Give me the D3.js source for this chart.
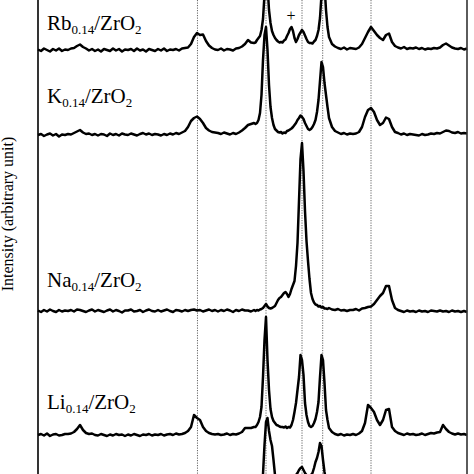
<!DOCTYPE html>
<html>
<head>
<meta charset="utf-8">
<script src="https://cdn.jsdelivr.net/npm/d3@7"></script>
<style>
  html, body { margin: 0; padding: 0; background: #fff; }
  svg { display: block; }
</style>
</head>
<body>
<div id="chart"></div>
<script>
// 2-theta sampling grid (degrees)
const theta = [
  10,10.5,11,11.5,12,12.5,13,13.5,14,14.5,
  15,15.5,16,16.5,17,17.5,18,18.5,19,19.5,
  20,20.5,21,21.5,22,22.5,23,23.5,24,24.5,
  25,25.5,26,26.5,27,27.5,28,28.5,29,29.5,
  30,30.5,31,31.5,32,32.5,33,33.5,34,34.5,
  35,35.5,36,36.5,37,37.5,38,38.5,39,39.5,
  40,40.5,41,41.5,42,42.5,43,43.5,44,44.5,
  45,45.5,46,46.25,46.5,46.75,47,47.25,47.5,47.75,
  48,48.25,48.5,48.75,49,49.25,49.5,49.75,50,50.25,
  50.5,50.75,51,51.25,51.5,51.75,52,52.25,52.5,52.75,
  53,53.25,53.5,53.75,54,54.25,54.5,54.75,55,55.25,
  55.5,55.75,56,56.25,56.5,56.75,57,57.25,57.5,57.75,
  58,58.25,58.5,59,59.5,60,60.5,61,61.5,62,
  62.5,63,63.5,64,64.5,65,65.5,66,66.5,67,
  67.5,68,68.5,69,69.5,70,70.5,71,71.5,72,
  72.5,73,73.5,74,74.5,75,75.5,76,76.5,77,
  77.5,78,78.5,79,79.5,80,80.5,81,81.5
];

// Intensities (arbitrary unit, relative to each trace's own baseline)
const rb = [
  1,-2,3,0,-3,2,-1,3,-2,1,
  0,3,4,8,11,6,3,-1,2,-2,
  1,-3,2,0,-2,3,-1,2,-3,1,
  0,2,-2,3,-1,1,-3,2,0,-2,
  2,-1,3,-2,1,0,2,-1,3,4,
  5,12,26,34,30,31,18,9,4,1,
  0,3,-1,2,1,-1,3,4,7,12,
  20,15,14,15,20,24,28,40,62,110,
  200,130,80,54,38,30,24,20,17,15,
  16,15,19,21,28,34,42,46,38,24,
  16,22,30,35,40,36,29,22,16,14,
  14,13,17,20,28,40,64,110,190,130,
  80,46,26,12,7,4,2,5,1,4,
  3,2,5,12,24,36,46,38,30,24,
  20,30,33,16,8,5,3,6,2,4,
  3,5,2,4,1,3,2,4,3,5,
  10,13,9,5,3,2,4,1,3
];
const k = [
  0,2,-2,1,3,-1,2,-3,1,0,
  2,1,4,7,10,5,2,3,0,2,
  -1,2,1,-2,3,0,2,-1,3,1,
  0,3,1,-1,2,4,1,3,0,2,
  1,-1,2,0,3,1,4,2,5,8,
  16,28,34,37,32,24,14,9,6,5,
  4,2,5,3,1,4,2,5,9,14,
  20,22,24,22,24,30,44,80,150,200,
  216,170,100,56,34,20,12,9,6,5,
  6,3,5,4,8,9,11,13,16,20,
  24,30,34,39,36,32,24,18,12,10,
  12,16,22,30,46,70,108,146,136,104,
  80,56,34,16,8,5,2,4,1,3,
  2,3,6,16,36,50,54,46,30,20,
  24,35,32,16,6,4,1,3,0,2,
  1,0,-1,2,0,1,3,2,4,3,
  6,9,8,5,4,6,3,4,3
];
const na = [
  1,-2,2,-1,3,0,-2,2,-1,1,
  0,2,-1,3,2,0,-2,1,3,-1,
  2,0,-2,1,3,-1,2,0,-3,1,
  1,3,-1,0,2,-2,1,3,0,-1,
  2,-1,1,3,0,-2,2,1,-1,2,
  0,2,3,1,2,-1,1,3,0,2,
  -1,2,0,3,1,-2,2,0,3,1,
  1,-1,2,0,2,1,3,4,6,10,
  14,9,6,5,6,8,10,16,22,26,
  28,32,36,38,34,28,34,44,52,60,
  90,136,220,304,336,280,200,140,100,64,
  36,24,17,13,12,9,10,7,8,5,
  5,4,6,3,2,4,1,2,0,2,
  2,4,1,5,6,8,9,14,22,30,
  36,50,50,22,6,2,0,-2,1,-1,
  0,-2,1,-1,0,-2,1,0,-1,1,
  -1,0,-2,1,-1,0,-2,0,-2
];
const li = [
  0,2,-1,3,-2,1,2,-1,0,2,
  2,3,6,12,20,10,4,2,3,0,
  -1,2,0,-2,1,-1,2,0,1,-2,
  1,-1,2,0,-2,1,0,2,-1,1,
  0,2,-1,1,2,0,3,1,2,4,
  8,16,40,34,30,16,8,4,2,1,
  2,0,1,3,0,2,1,3,6,14,
  14,14,16,16,20,26,36,56,116,190,
  236,150,90,52,36,28,24,20,19,17,
  16,16,15,17,14,16,15,20,30,46,
  64,90,116,160,150,120,64,40,26,18,
  16,18,24,32,46,66,116,160,150,104,
  50,30,14,6,2,0,2,-1,1,0,
  2,0,3,8,24,60,54,46,30,20,
  30,50,52,16,8,4,2,0,3,1,
  2,0,1,3,0,2,4,3,5,6,
  20,12,6,3,1,3,1,2,0
];
const bottom = [
  1,-1,2,0,-2,1,2,-1,0,1,
  2,0,1,3,4,2,0,-1,1,0,
  -1,1,0,2,-1,0,1,-2,1,0,
  1,0,-1,2,0,1,-1,0,2,1,
  0,1,2,0,-1,1,0,2,1,2,
  3,4,5,4,3,2,1,2,0,1,
  2,1,0,2,3,1,2,3,3,4,
  4,8,12,14,18,22,28,38,52,110,
  156,164,138,120,108,80,50,40,36,34,
  33,34,35,36,38,40,42,44,46,48,
  50,54,60,64,66,60,54,50,48,48,
  50,54,64,76,84,96,114,108,80,56,
  40,30,24,16,12,10,8,6,5,4,
  3,2,4,3,5,6,5,4,6,5,
  6,7,6,4,3,2,3,1,2,1,
  0,1,2,0,1,-1,0,1,2,0,
  1,0,-1,1,0,2,0,1,0
];

const traces  = [rb, k, na, li, bottom];
const offsets = [948, 778, 426, 178, 48];          // vertical stacking offsets
const elements = ["Rb", "K", "Na", "Li"];
const loading  = "0.14";
const refLines = [36.58, 48.0, 54.0, 57.45, 65.5]; // dotted reference positions (2θ)
const plusAt   = 52.17;                            // "+" marker position (2θ)
const yLabel   = "Intensity (arbitrary unit)";

// ---------- layout ----------
const W = 474, H = 474;
const svg = d3.select("#chart").append("svg")
  .attr("width", W).attr("height", H)
  .style("font-family", "'Liberation Serif', 'Times New Roman', serif");

const x = d3.scaleLinear().domain([10, 81.5]).range([38, 467]);
const y = d3.scaleLinear().domain([0, 1100]).range([524, -26]);

// reference dotted lines
svg.append("g").selectAll("line").data(refLines).join("line")
  .attr("x1", d => x(d)).attr("x2", d => x(d))
  .attr("y1", 0).attr("y2", H)
  .attr("stroke", "#555").attr("stroke-width", 0.9)
  .attr("stroke-dasharray", "1.2,1.3");

// spectra
const line = d3.line()
  .x((d, i) => x(theta[i]))
  .y(d => y(d));

svg.append("g").selectAll("path").data(traces).join("path")
  .attr("d", (t, j) => line(t.map(v => v + offsets[j])))
  .attr("fill", "none")
  .attr("stroke", "#000")
  .attr("stroke-width", 2.5)
  .attr("stroke-linejoin", "round");

// frame lines (left & right axes)
svg.append("line").attr("x1", x(10)).attr("x2", x(10)).attr("y1", 0).attr("y2", H)
  .attr("stroke", "#000").attr("stroke-width", 1.6);
svg.append("line").attr("x1", x(81.5)).attr("x2", x(81.5)).attr("y1", 0).attr("y2", H)
  .attr("stroke", "#333").attr("stroke-width", 1.6);

// sample labels
const labelRise = [20, 32, 24, 26];
elements.forEach((el, i) => {
  const t = svg.append("text")
    .attr("x", x(11.5))
    .attr("y", y(offsets[i]) - labelRise[i])
    .attr("font-size", 21)
    .attr("fill", "#000");
  t.append("tspan").text(el);
  t.append("tspan").text(loading).attr("font-size", 13).attr("dy", 4);
  t.append("tspan").text("/ZrO").attr("dy", -4);
  t.append("tspan").text("2").attr("font-size", 13).attr("dy", 4);
});

// "+" marker
svg.append("text")
  .attr("x", x(plusAt)).attr("y", 21)
  .attr("text-anchor", "middle")
  .attr("font-size", 16)
  .attr("fill", "#000")
  .text("+");

// y-axis title
svg.append("text")
  .attr("transform", "translate(13,214) rotate(-90)")
  .attr("text-anchor", "middle")
  .attr("font-size", 16)
  .text(yLabel);
</script>
</body>
</html>
